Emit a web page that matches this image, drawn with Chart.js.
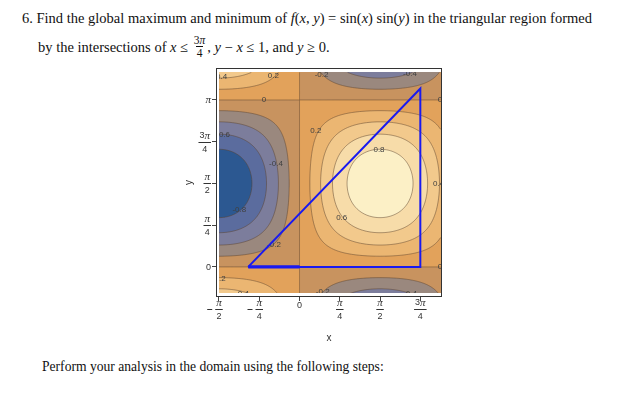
<!DOCTYPE html>
<html lang="en">
<head>
<meta charset="utf-8">
<title>sin(x) sin(y) contour</title>
<script src="https://cdn.jsdelivr.net/npm/chart.js@4.4.1/dist/chart.umd.min.js"></script>
<style>
    body { margin: 0; background: #fff; width: 630px; height: 396px; overflow: hidden; position: relative; }
    #chart { position: absolute; left: 0; top: 0; }
    .txt { position: absolute; font-family: "Liberation Serif", serif; color: #111; white-space: nowrap; }
    .frac { display: inline-flex; flex-direction: column; align-items: center; vertical-align: middle;
            font-size: 11.5px; line-height: 12px; margin: 0 2px; position: relative; top: -2px; }
    .frac span + span { border-top: 1px solid #111; padding: 0 1px; }
</style>
</head>
<body>
    <div class="txt" style="left:22px; top:10px; font-size:14.5px; line-height:16px;">6. Find the global maximum and minimum of <i>f</i>(<i>x</i>, <i>y</i>) = sin(<i>x</i>) sin(<i>y</i>) in the triangular region formed</div>
    <div class="txt" style="left:38px; top:36px; font-size:14.5px; line-height:18px;">by the intersections of <i>x</i> &le; <span class="frac"><span>3<i>&pi;</i></span><span>4</span></span>, <i>y</i> &minus; <i>x</i> &le; 1, and <i>y</i> &ge; 0.</div>
    <div class="txt" style="left:42px; top:359px; font-size:13.6px; line-height:16px;">Perform your analysis in the domain using the following steps:</div>

    <canvas id="chart" width="630" height="396"></canvas>

    <script>
        // data
        var xTickValues = [-Math.PI / 2, -Math.PI / 4, 0, Math.PI / 4, Math.PI / 2, 3 * Math.PI / 4];
        var xTickLabels = ['-π/2', '-π/4', '0', 'π/4', 'π/2', '3π/4'];
        var yTickValues = [0, Math.PI / 4, Math.PI / 2, 3 * Math.PI / 4, Math.PI];
        var yTickLabels = ['0', 'π/4', 'π/2', '3π/4', 'π'];

        var contourLevels = [-0.8, -0.6, -0.4, -0.2, 0, 0.2, 0.4, 0.6, 0.8];

        // plotted domain of f
        var xDomain = [-Math.PI / 2, 2.75];
        var yDomain = [-0.5, 3.66];

        // region boundary: x <= 3pi/4, y - x <= 1, y >= 0
        var triangleX = [-1, 3 * Math.PI / 4, 3 * Math.PI / 4, -1];
        var triangleY = [0, 0, 3 * Math.PI / 4 + 1, 0];
        var baseX = [-1, 0];
        var baseY = [0, 0];

        // contour labels
        var labelX = [-1.52, -0.51, 0.43, 2.155, -0.693, 2.74, 0.32, 1.55, -1.49, -0.46, 2.71, -1.175, 0.823, -0.498, -1.55, -1.097, 0.452, 2.155, 2.74];
        var labelY = [3.57, 3.60, 3.61, 3.63, 3.154, 3.141, 2.563, 2.213, 2.482, 1.936, 1.573, 1.084, 0.915, 0.412, -0.215, -0.497, -0.467, -0.497, 0.0];
        var labelText = ['0.4', '0.2', '-0.2', '-0.4', '0', '0', '0.2', '0.8', '-0.6', '-0.4', '0.4', '-0.8', '0.6', '-0.2', '0.2', '0.4', '-0.2', '-0.4', '0'];

        function f(x, y) {
            return Math.sin(x) * Math.sin(y);
        }

        // styles
        var bandColors = ['#2c5891', '#5b6c9e', '#7c7d9c', '#9a887e', '#c8935f',
                          '#e2a25b', '#ebb672', '#f2c98c', '#f7dca9', '#fcf0c6'];
        var bandRGB = bandColors.map(function (h) {
            return [parseInt(h.substr(1, 2), 16), parseInt(h.substr(3, 2), 16), parseInt(h.substr(5, 2), 16)];
        });

        function bandOf(v) {
            var k = 0;
            for (var i = 0; i < contourLevels.length; i++) if (v > contourLevels[i]) k++;
            return k;
        }

        function fillRect(chart) {
            var x = chart.scales.x, y = chart.scales.y;
            var left = Math.round(x.getPixelForValue(xDomain[0]));
            var right = Math.round(x.getPixelForValue(xDomain[1]));
            var top = Math.round(y.getPixelForValue(yDomain[1]));
            var bottom = Math.round(y.getPixelForValue(yDomain[0]));
            return { left: left, top: top, w: right - left, h: bottom - top };
        }

        var contourPlugin = {
            id: 'contour',
            beforeDatasetsDraw: function (chart) {
                var ctx = chart.ctx, x = chart.scales.x, y = chart.scales.y;
                var r = fillRect(chart);
                var img = ctx.createImageData(r.w, r.h);
                var S = 3;
                for (var j = 0; j < r.h; j++) {
                    for (var i = 0; i < r.w; i++) {
                        var cr = 0, cg = 0, cb = 0;
                        for (var sj = 0; sj < S; sj++) {
                            var vy = y.getValueForPixel(r.top + j + (sj + 0.5) / S);
                            for (var si = 0; si < S; si++) {
                                var vx = x.getValueForPixel(r.left + i + (si + 0.5) / S);
                                var c = bandRGB[bandOf(f(vx, vy))];
                                cr += c[0]; cg += c[1]; cb += c[2];
                            }
                        }
                        var k = (j * r.w + i) * 4;
                        img.data[k] = cr / (S * S);
                        img.data[k + 1] = cg / (S * S);
                        img.data[k + 2] = cb / (S * S);
                        img.data[k + 3] = 255;
                    }
                }
                ctx.putImageData(img, r.left, r.top);

                ctx.save();
                ctx.beginPath();
                ctx.rect(r.left, r.top, r.w, r.h);
                ctx.clip();

                // contour lines, marching squares
                var N = 220, M = 220;
                var dx = (xDomain[1] - xDomain[0]) / N, dy = (yDomain[1] - yDomain[0]) / M;
                var g = [];
                for (var jj = 0; jj <= M; jj++) {
                    g.push([]);
                    for (var ii = 0; ii <= N; ii++) g[jj].push(f(xDomain[0] + ii * dx, yDomain[0] + jj * dy));
                }
                ctx.strokeStyle = 'rgba(90,65,45,0.55)';
                ctx.lineWidth = 0.9;
                contourLevels.forEach(function (L) {
                    ctx.beginPath();
                    for (var j = 0; j < M; j++) {
                        for (var i = 0; i < N; i++) {
                            var x0 = xDomain[0] + i * dx, y0 = yDomain[0] + j * dy;
                            var corners = [[x0, y0, g[j][i]], [x0 + dx, y0, g[j][i + 1]],
                                           [x0 + dx, y0 + dy, g[j + 1][i + 1]], [x0, y0 + dy, g[j + 1][i]]];
                            var pts = [];
                            for (var e = 0; e < 4; e++) {
                                var a = corners[e], b = corners[(e + 1) % 4];
                                if ((a[2] > L) !== (b[2] > L)) {
                                    var t = (L - a[2]) / (b[2] - a[2]);
                                    pts.push([a[0] + t * (b[0] - a[0]), a[1] + t * (b[1] - a[1])]);
                                }
                            }
                            for (var p = 0; p + 1 < pts.length; p += 2) {
                                ctx.moveTo(x.getPixelForValue(pts[p][0]), y.getPixelForValue(pts[p][1]));
                                ctx.lineTo(x.getPixelForValue(pts[p + 1][0]), y.getPixelForValue(pts[p + 1][1]));
                            }
                        }
                    }
                    ctx.stroke();
                });

                // contour labels
                ctx.font = '8px "Liberation Sans", sans-serif';
                ctx.fillStyle = '#404040';
                ctx.textAlign = 'center';
                ctx.textBaseline = 'middle';
                labelText.forEach(function (s, i) {
                    ctx.fillText(s, x.getPixelForValue(labelX[i]), y.getPixelForValue(labelY[i]));
                });
                ctx.restore();
            },
            afterDraw: function (chart) {
                var ctx = chart.ctx, ca = chart.chartArea, x = chart.scales.x, y = chart.scales.y;
                ctx.save();
                ctx.strokeStyle = '#333';
                ctx.lineWidth = 1;
                ctx.strokeRect(ca.left + 0.5, ca.top + 0.5, ca.right - ca.left - 1, ca.bottom - ca.top - 1);

                xTickValues.forEach(function (v, i) {
                    drawTickLabel(ctx, xTickLabels[i], x.getPixelForValue(v), 'x');
                });
                yTickValues.forEach(function (v, i) {
                    drawTickLabel(ctx, yTickLabels[i], y.getPixelForValue(v), 'y');
                });

                ctx.fillStyle = '#333';
                ctx.font = '10px "Liberation Sans", sans-serif';
                ctx.textAlign = 'center';
                ctx.textBaseline = 'middle';
                ctx.fillText('x', (ca.left + ca.right) / 2, 338);
                ctx.translate(189, (ca.top + ca.bottom) / 2);
                ctx.rotate(-Math.PI / 2);
                ctx.fillText('y', 0, 0);
                ctx.restore();
            }
        };

        var digitFont = '9px "Liberation Sans", sans-serif';
        var piFont = 'italic 11px "Liberation Serif", serif';

        function runs(s) {
            return s.split('').map(function (ch) { return { t: ch, font: ch === 'π' ? piFont : digitFont }; });
        }
        function mixedWidth(ctx, s) {
            return runs(s).reduce(function (w, r) { ctx.font = r.font; return w + ctx.measureText(r.t).width; }, 0);
        }
        function drawMixed(ctx, s, cx, cy) {
            var w = mixedWidth(ctx, s), px = cx - w / 2;
            ctx.textAlign = 'left';
            ctx.textBaseline = 'middle';
            runs(s).forEach(function (r) {
                ctx.font = r.font;
                ctx.fillText(r.t, px, cy);
                px += ctx.measureText(r.t).width;
            });
        }

        function drawTickLabel(ctx, str, pos, axis) {
            ctx.fillStyle = '#333';
            ctx.strokeStyle = '#333';
            var neg = str.charAt(0) === '-';
            var body = neg ? str.slice(1) : str;
            if (body.indexOf('/') < 0) {
                var w = mixedWidth(ctx, body);
                if (axis === 'x') drawMixed(ctx, body, pos, 306);
                else drawMixed(ctx, body, 211 - w / 2, pos + 0.5);
                return;
            }
            var parts = body.split('/');
            var barW = Math.max(mixedWidth(ctx, parts[0]), mixedWidth(ctx, parts[1])) + 2;
            var cx, cy;
            if (axis === 'x') { cx = pos; cy = 309.5; }
            else { cx = 211 - barW / 2; cy = Math.round(pos) + 0.5; }
            drawMixed(ctx, parts[0], cx, cy - 6.5);
            drawMixed(ctx, parts[1], cx, cy + 7);
            ctx.lineWidth = 1;
            ctx.beginPath();
            ctx.moveTo(cx - barW / 2, cy);
            ctx.lineTo(cx + barW / 2, cy);
            ctx.stroke();
            if (neg) {
                ctx.beginPath();
                ctx.moveTo(cx - barW / 2 - 8, cy);
                ctx.lineTo(cx - barW / 2 - 3, cy);
                ctx.stroke();
            }
        }

        var ctx = document.getElementById('chart');
        new Chart(ctx, {
            type: 'scatter',
            data: {
                datasets: [{
                    data: triangleX.map(function (v, i) { return { x: v, y: triangleY[i] }; }),
                    showLine: true,
                    borderColor: 'rgb(25,25,240)',
                    borderWidth: 2,
                    pointRadius: 0,
                    fill: false
                }, {
                    data: baseX.map(function (v, i) { return { x: v, y: baseY[i] }; }),
                    showLine: true,
                    borderColor: 'rgb(25,25,240)',
                    borderWidth: 3.2,
                    pointRadius: 0,
                    fill: false
                }]
            },
            options: {
                responsive: false,
                animation: false,
                events: [],
                layout: { padding: { left: 180, right: 188, top: 68, bottom: 50 } },
                plugins: { legend: { display: false }, tooltip: { enabled: false } },
                scales: {
                    x: {
                        type: 'linear',
                        min: -1.629,
                        max: 2.779,
                        afterBuildTicks: function (s) { s.ticks = xTickValues.map(function (v) { return { value: v }; }); },
                        afterFit: function (s) { s.height = 49; },
                        ticks: { display: false },
                        border: { display: false },
                        grid: { drawOnChartArea: false, drawTicks: true, tickLength: 4, color: '#444' }
                    },
                    y: {
                        type: 'linear',
                        min: -0.566,
                        max: 3.743,
                        afterBuildTicks: function (s) { s.ticks = yTickValues.map(function (v) { return { value: v }; }); },
                        afterFit: function (s) { s.width = 36; },
                        ticks: { display: false },
                        border: { display: false },
                        grid: { drawOnChartArea: false, drawTicks: true, tickLength: 4, color: '#444' }
                    }
                }
            },
            plugins: [contourPlugin]
        });
    </script>
</body>
</html>
